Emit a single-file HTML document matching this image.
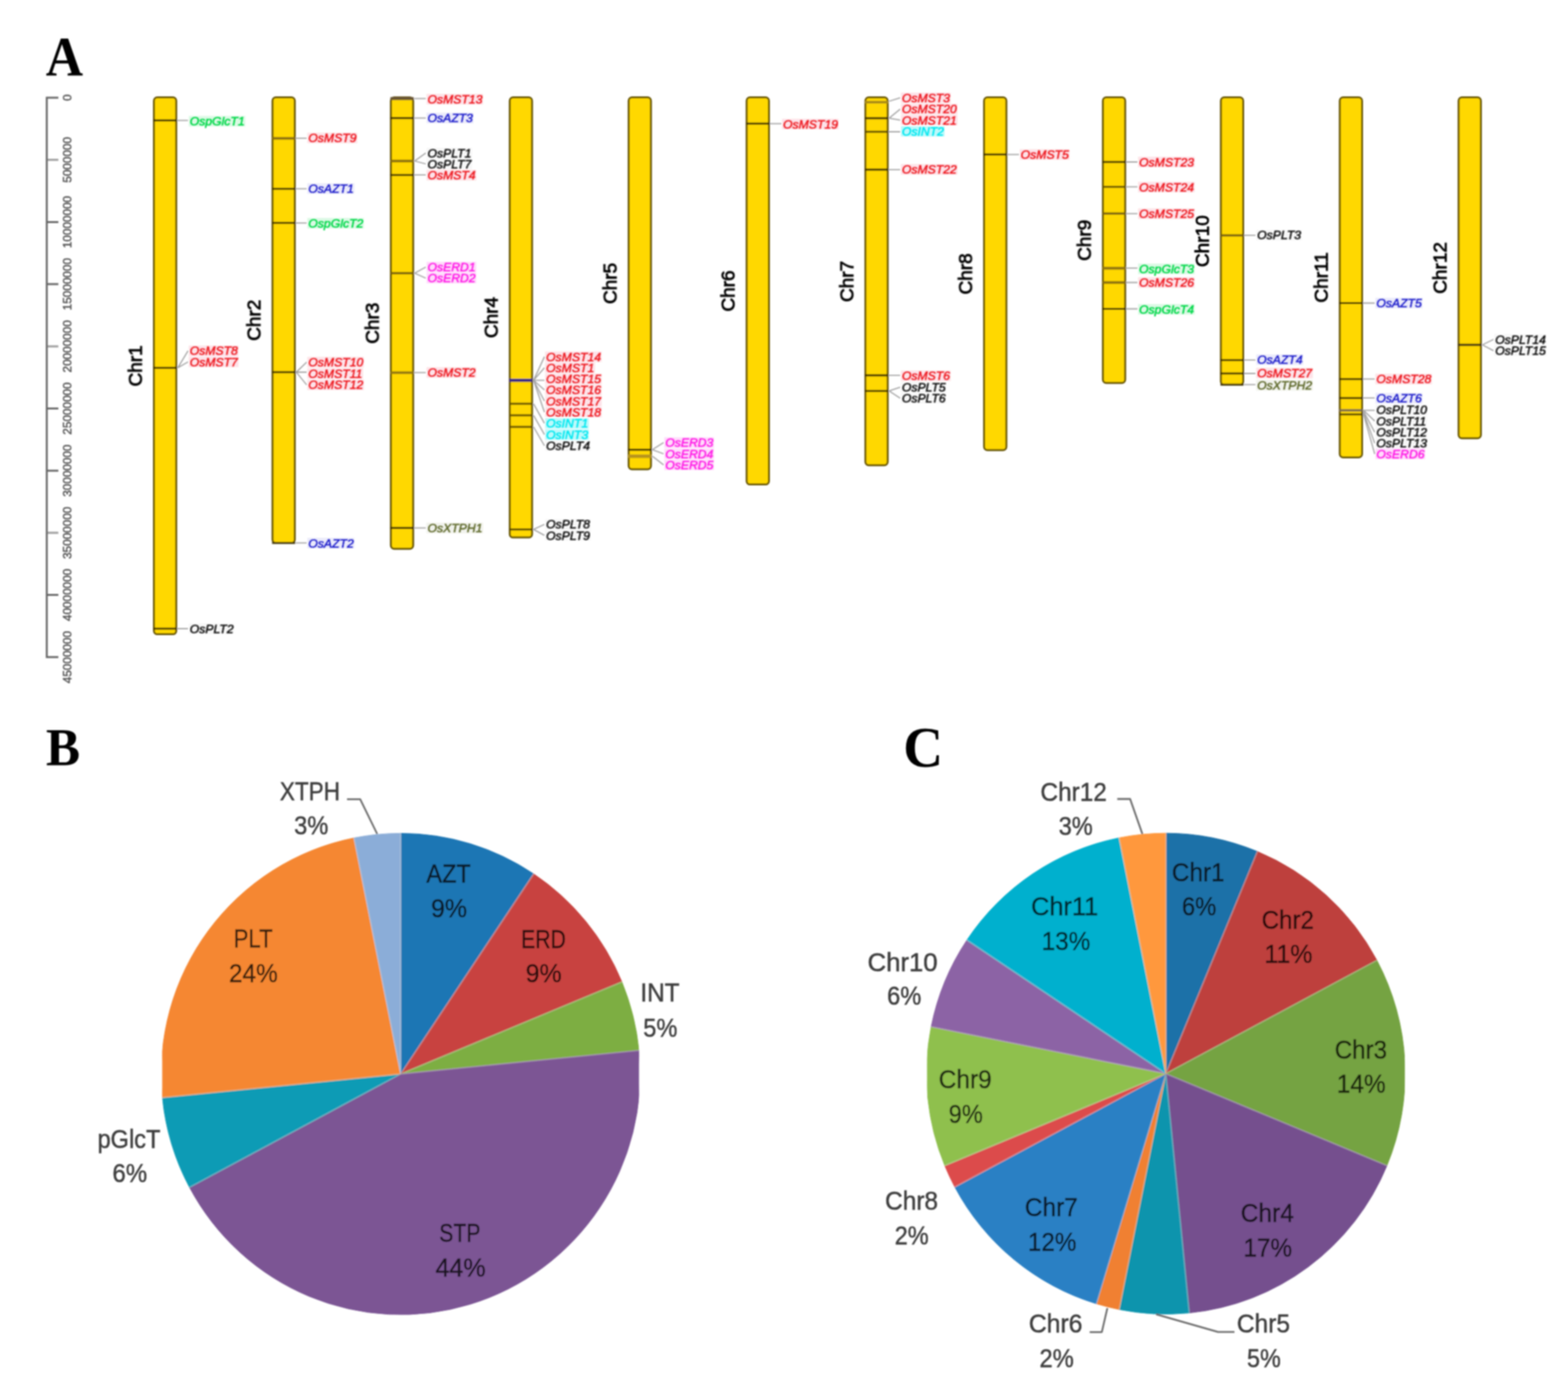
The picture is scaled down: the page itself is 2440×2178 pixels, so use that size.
<!DOCTYPE html>
<html lang="en"><head><meta charset="utf-8"><title>Chromosomal distribution of sugar transporter genes</title>
<style>
html,body{margin:0;padding:0;background:#fff;}
body{width:2440px;height:2178px;overflow:hidden;}
svg{display:block;}
.g{font-family:"Liberation Sans",Arial,Helvetica,sans-serif;font-style:italic;font-size:19.0px;stroke-width:.7;stroke-linejoin:round;}
.c{font-family:"Liberation Sans",Arial,Helvetica,sans-serif;font-size:29.6px;fill:#000;stroke:#000;stroke-width:1.1;text-anchor:middle;}
.t{font-family:"Liberation Sans",Arial,Helvetica,sans-serif;font-size:18.3px;fill:#565656;stroke:#565656;stroke-width:.6;text-anchor:middle;}
.p{font-family:"Liberation Serif","Times New Roman",serif;font-weight:bold;font-size:100px;fill:#000;}
.l{font-family:"Liberation Sans",Arial,Helvetica,sans-serif;font-size:40px;fill:#000;stroke:#000;stroke-width:.7;opacity:.76;text-anchor:middle;}
.k{fill:none;stroke:#a2a2a2;stroke-width:1.8;}
.ld{fill:none;stroke:#6c6c6c;stroke-width:2.8;stroke-linejoin:round;}
</style></head><body>
<svg width="2440" height="2178" viewBox="0 0 2440 2178" role="img" aria-label="Chromosomal distribution of rice sugar transporter genes">
<rect width="2440" height="2178" fill="#ffffff"/>
<defs><filter id="fa" x="0" y="0" width="2440" height="1100" filterUnits="userSpaceOnUse"><feGaussianBlur stdDeviation="1.0"/></filter><filter id="fb" x="0" y="1080" width="2440" height="1098" filterUnits="userSpaceOnUse"><feGaussianBlur stdDeviation="0.85"/></filter></defs>
<g id="panelA" filter="url(#fa)">
<text class="p" transform="translate(71.2 116.5) scale(.803 .864)">A</text>
<g id="scale">
<path d="M72.8 248.7 H90.8M72.8 538.8 H90.8M72.8 828.9 H90.8" fill="none" stroke="#a0a0a0" stroke-width="3.2"/>
<path d="M72.8 150.6 V1023.7 M72.8 152.0 H90.8 M72.8 345.4 H90.8 M72.8 442.1 H90.8 M72.8 635.5 H90.8 M72.8 732.2 H90.8 M72.8 925.6 H90.8 M72.8 1022.3 H90.8" fill="none" stroke="#666" stroke-width="3.0"/>
<text class="t" transform="translate(111.2 152.0) rotate(-90)">0</text>
<text class="t" transform="translate(111.2 248.7) rotate(-90)">5000000</text>
<text class="t" transform="translate(111.2 345.4) rotate(-90)">10000000</text>
<text class="t" transform="translate(111.2 442.1) rotate(-90)">15000000</text>
<text class="t" transform="translate(111.2 538.8) rotate(-90)">20000000</text>
<text class="t" transform="translate(111.2 635.5) rotate(-90)">25000000</text>
<text class="t" transform="translate(111.2 732.2) rotate(-90)">30000000</text>
<text class="t" transform="translate(111.2 828.9) rotate(-90)">35000000</text>
<text class="t" transform="translate(111.2 925.6) rotate(-90)">40000000</text>
<text class="t" transform="translate(111.2 1022.3) rotate(-90)">45000000</text>
</g>
<g id="chr1">
<rect x="239.6" y="151.6" width="34.6" height="835.0" rx="5.2" ry="5.2" fill="#ffd800" stroke="#655200" stroke-width="3.0"/>
<path d="M238.9 187.4 H274.9" stroke="#3f3300" stroke-width="3.1" fill="none"/>
<path d="M238.9 572.2 H274.9" stroke="#3f3300" stroke-width="3.1" fill="none"/>
<path d="M238.9 978.0 H274.9" stroke="#3f3300" stroke-width="3.1" fill="none"/>
<path class="k" d="M275.6 187.4 H292.6M276.6 572.2 L292.6 545.8M276.6 572.2 L292.6 563.0M275.6 978.0 H292.6"/>
<rect x="293.7" y="180.4" width="88.0" height="16.4" fill="#00d84a" fill-opacity="0.14"/>
<rect x="293.7" y="537.6" width="77.5" height="16.4" fill="#ee1c25" fill-opacity="0.11"/>
<rect x="293.7" y="554.8" width="77.5" height="16.4" fill="#ee1c25" fill-opacity="0.11"/>
<rect x="293.7" y="969.8" width="70.8" height="16.4" fill="#111111" fill-opacity="0.03"/>
<text class="g" x="295.2" y="195.2" fill="#00d84a" stroke="#00d84a">OspGlcT1</text>
<text class="g" x="295.2" y="552.4" fill="#ee1c25" stroke="#ee1c25">OsMST8</text>
<text class="g" x="295.2" y="569.6" fill="#ee1c25" stroke="#ee1c25">OsMST7</text>
<text class="g" x="295.2" y="984.6" fill="#111111" stroke="#111111" stroke-width=".5">OsPLT2</text>
<text class="c" transform="translate(220.7 569.2) rotate(-90)">Chr1</text>
</g>
<g id="chr2">
<rect x="424.1" y="151.6" width="34.6" height="693.0" rx="5.2" ry="5.2" fill="#ffd800" stroke="#655200" stroke-width="3.0"/>
<path d="M423.4 215.2 H459.4" stroke="#8a6f0a" stroke-width="3.9" fill="none"/>
<path d="M423.4 293.7 H459.4" stroke="#3f3300" stroke-width="3.1" fill="none"/>
<path d="M423.4 346.8 H459.4" stroke="#3f3300" stroke-width="3.1" fill="none"/>
<path d="M423.4 579.0 H459.4" stroke="#3f3300" stroke-width="3.1" fill="none"/>
<path d="M423.4 844.6 H459.4" stroke="#4a3c10" stroke-width="3.3" fill="none"/>
<path class="k" d="M460.1 215.2 H477.2M460.1 293.7 H477.2M460.1 346.8 H477.2M461.1 579.0 L477.2 563.4M460.1 579.0 H477.2M461.1 579.0 L477.2 598.8M460.1 844.6 H477.2"/>
<rect x="478.3" y="206.4" width="77.5" height="16.4" fill="#ee1c25" fill-opacity="0.11"/>
<rect x="478.3" y="285.1" width="73.2" height="16.4" fill="#2222cc" fill-opacity="0.08"/>
<rect x="478.3" y="339.1" width="88.0" height="16.4" fill="#00d84a" fill-opacity="0.14"/>
<rect x="478.3" y="555.2" width="88.0" height="16.4" fill="#ee1c25" fill-opacity="0.11"/>
<rect x="478.3" y="572.8" width="86.6" height="16.4" fill="#ee1c25" fill-opacity="0.11"/>
<rect x="478.3" y="590.6" width="88.0" height="16.4" fill="#ee1c25" fill-opacity="0.11"/>
<rect x="478.3" y="836.7" width="73.2" height="16.4" fill="#2222cc" fill-opacity="0.08"/>
<text class="g" x="479.8" y="221.2" fill="#ee1c25" stroke="#ee1c25">OsMST9</text>
<text class="g" x="479.8" y="299.9" fill="#2222cc" stroke="#2222cc">OsAZT1</text>
<text class="g" x="479.8" y="353.9" fill="#00d84a" stroke="#00d84a">OspGlcT2</text>
<text class="g" x="479.8" y="570.0" fill="#ee1c25" stroke="#ee1c25">OsMST10</text>
<text class="g" x="479.8" y="587.6" fill="#ee1c25" stroke="#ee1c25">OsMST11</text>
<text class="g" x="479.8" y="605.4" fill="#ee1c25" stroke="#ee1c25">OsMST12</text>
<text class="g" x="479.8" y="851.5" fill="#2222cc" stroke="#2222cc">OsAZT2</text>
<text class="c" transform="translate(405.2 498.2) rotate(-90)">Chr2</text>
</g>
<g id="chr3">
<rect x="608.3" y="151.6" width="34.6" height="702.2" rx="5.2" ry="5.2" fill="#ffd800" stroke="#655200" stroke-width="3.0"/>
<path d="M607.6 153.4 H643.6" stroke="#6a5636" stroke-width="4.7" fill="none"/>
<path d="M607.6 183.6 H643.6" stroke="#3f3300" stroke-width="3.1" fill="none"/>
<path d="M607.6 250.5 H643.6" stroke="#8a6f0a" stroke-width="4.1" fill="none"/>
<path d="M607.6 272.2 H643.6" stroke="#3f3300" stroke-width="3.1" fill="none"/>
<path d="M607.6 425.0 H643.6" stroke="#7a6208" stroke-width="3.5" fill="none"/>
<path d="M607.6 579.7 H643.6" stroke="#94780e" stroke-width="4.1" fill="none"/>
<path d="M607.6 821.4 H643.6" stroke="#3f3300" stroke-width="3.1" fill="none"/>
<path class="k" d="M644.3 153.4 H662.6M644.3 183.6 H662.6M645.3 250.5 L662.6 237.9M645.3 250.5 L662.6 255.0M644.3 272.2 H662.6M645.3 425.0 L662.6 415.5M645.3 425.0 L662.6 432.7M644.3 579.7 H662.6M644.3 821.4 H662.6"/>
<rect x="663.7" y="146.1" width="88.0" height="16.4" fill="#ee1c25" fill-opacity="0.11"/>
<rect x="663.7" y="175.4" width="73.2" height="16.4" fill="#2222cc" fill-opacity="0.08"/>
<rect x="663.7" y="229.7" width="70.8" height="16.4" fill="#111111" fill-opacity="0.03"/>
<rect x="663.7" y="246.8" width="70.8" height="16.4" fill="#111111" fill-opacity="0.03"/>
<rect x="663.7" y="264.4" width="77.5" height="16.4" fill="#ee1c25" fill-opacity="0.11"/>
<rect x="663.7" y="407.3" width="77.5" height="16.4" fill="#ff1ee6" fill-opacity="0.14"/>
<rect x="663.7" y="424.5" width="77.5" height="16.4" fill="#ff1ee6" fill-opacity="0.14"/>
<rect x="663.7" y="571.3" width="77.5" height="16.4" fill="#ee1c25" fill-opacity="0.11"/>
<rect x="663.7" y="813.2" width="88.0" height="16.4" fill="#626c30" fill-opacity="0.09"/>
<text class="g" x="665.2" y="160.9" fill="#ee1c25" stroke="#ee1c25">OsMST13</text>
<text class="g" x="665.2" y="190.2" fill="#2222cc" stroke="#2222cc">OsAZT3</text>
<text class="g" x="665.2" y="244.5" fill="#111111" stroke="#111111" stroke-width=".5">OsPLT1</text>
<text class="g" x="665.2" y="261.6" fill="#111111" stroke="#111111" stroke-width=".5">OsPLT7</text>
<text class="g" x="665.2" y="279.2" fill="#ee1c25" stroke="#ee1c25">OsMST4</text>
<text class="g" x="665.2" y="422.1" fill="#ff1ee6" stroke="#ff1ee6">OsERD1</text>
<text class="g" x="665.2" y="439.3" fill="#ff1ee6" stroke="#ff1ee6">OsERD2</text>
<text class="g" x="665.2" y="586.1" fill="#ee1c25" stroke="#ee1c25">OsMST2</text>
<text class="g" x="665.2" y="828.0" fill="#626c30" stroke="#626c30">OsXTPH1</text>
<text class="c" transform="translate(589.4 502.8) rotate(-90)">Chr3</text>
</g>
<g id="chr4">
<rect x="793.3" y="151.6" width="34.6" height="684.5" rx="5.2" ry="5.2" fill="#ffd800" stroke="#655200" stroke-width="3.0"/>
<path d="M792.6 591.6 H828.6" stroke="#3d2d86" stroke-width="5.1" fill="none"/>
<path d="M792.6 628.2 H828.6" stroke="#6a5606" stroke-width="3.3" fill="none"/>
<path d="M792.6 646.2 H828.6" stroke="#6a5606" stroke-width="3.3" fill="none"/>
<path d="M792.6 664.1 H828.6" stroke="#6a5606" stroke-width="3.3" fill="none"/>
<path d="M792.6 823.6 H828.6" stroke="#5a4906" stroke-width="3.3" fill="none"/>
<path class="k" d="M830.3 591.6 L847.2 555.0M830.3 591.6 L847.2 572.2M829.3 591.6 H847.2M830.3 591.6 L847.2 606.7M830.3 591.6 L847.2 623.9M830.3 591.6 L847.2 641.1M830.3 628.2 L847.2 658.5M830.3 646.2 L847.2 676.0M830.3 664.1 L847.2 693.4M830.3 823.6 L847.2 815.7M830.3 823.6 L847.2 832.9"/>
<rect x="848.3" y="546.8" width="88.0" height="16.4" fill="#ee1c25" fill-opacity="0.11"/>
<rect x="848.3" y="564.0" width="77.5" height="16.4" fill="#ee1c25" fill-opacity="0.11"/>
<rect x="848.3" y="581.3" width="88.0" height="16.4" fill="#ee1c25" fill-opacity="0.11"/>
<rect x="848.3" y="598.5" width="88.0" height="16.4" fill="#ee1c25" fill-opacity="0.11"/>
<rect x="848.3" y="615.7" width="88.0" height="16.4" fill="#ee1c25" fill-opacity="0.11"/>
<rect x="848.3" y="632.9" width="88.0" height="16.4" fill="#ee1c25" fill-opacity="0.11"/>
<rect x="848.3" y="650.3" width="68.0" height="16.4" fill="#00e8f0" fill-opacity="0.26"/>
<rect x="848.3" y="667.8" width="68.0" height="16.4" fill="#00e8f0" fill-opacity="0.26"/>
<rect x="848.3" y="685.2" width="70.8" height="16.4" fill="#111111" fill-opacity="0.03"/>
<rect x="848.3" y="807.5" width="70.8" height="16.4" fill="#111111" fill-opacity="0.03"/>
<rect x="848.3" y="824.7" width="70.8" height="16.4" fill="#111111" fill-opacity="0.03"/>
<text class="g" x="849.8" y="561.6" fill="#ee1c25" stroke="#ee1c25">OsMST14</text>
<text class="g" x="849.8" y="578.8" fill="#ee1c25" stroke="#ee1c25">OsMST1</text>
<text class="g" x="849.8" y="596.1" fill="#ee1c25" stroke="#ee1c25">OsMST15</text>
<text class="g" x="849.8" y="613.3" fill="#ee1c25" stroke="#ee1c25">OsMST16</text>
<text class="g" x="849.8" y="630.5" fill="#ee1c25" stroke="#ee1c25">OsMST17</text>
<text class="g" x="849.8" y="647.7" fill="#ee1c25" stroke="#ee1c25">OsMST18</text>
<text class="g" x="849.8" y="665.1" fill="#00e8f0" stroke="#00e8f0">OsINT1</text>
<text class="g" x="849.8" y="682.6" fill="#00e8f0" stroke="#00e8f0">OsINT3</text>
<text class="g" x="849.8" y="700.0" fill="#111111" stroke="#111111" stroke-width=".5">OsPLT4</text>
<text class="g" x="849.8" y="822.3" fill="#111111" stroke="#111111" stroke-width=".5">OsPLT8</text>
<text class="g" x="849.8" y="839.5" fill="#111111" stroke="#111111" stroke-width=".5">OsPLT9</text>
<text class="c" transform="translate(774.4 493.9) rotate(-90)">Chr4</text>
</g>
<g id="chr5">
<rect x="978.3" y="151.6" width="34.6" height="578.4" rx="5.2" ry="5.2" fill="#ffd800" stroke="#655200" stroke-width="3.0"/>
<path d="M977.6 699.6 H1013.6" stroke="#3f3300" stroke-width="3.1" fill="none"/>
<path d="M977.6 709.8 H1013.6" stroke="#b8941a" stroke-width="5.5" fill="none"/>
<path class="k" d="M1015.3 699.6 L1032.6 688.5M1015.3 699.6 L1032.6 706.0M1015.3 709.8 L1032.6 723.2"/>
<rect x="1033.7" y="680.3" width="77.5" height="16.4" fill="#ff1ee6" fill-opacity="0.14"/>
<rect x="1033.7" y="697.8" width="77.5" height="16.4" fill="#ff1ee6" fill-opacity="0.14"/>
<rect x="1033.7" y="715.0" width="77.5" height="16.4" fill="#ff1ee6" fill-opacity="0.14"/>
<text class="g" x="1035.2" y="695.1" fill="#ff1ee6" stroke="#ff1ee6">OsERD3</text>
<text class="g" x="1035.2" y="712.6" fill="#ff1ee6" stroke="#ff1ee6">OsERD4</text>
<text class="g" x="1035.2" y="729.8" fill="#ff1ee6" stroke="#ff1ee6">OsERD5</text>
<text class="c" transform="translate(959.4 440.9) rotate(-90)">Chr5</text>
</g>
<g id="chr6">
<rect x="1161.9" y="151.6" width="34.6" height="602.0" rx="5.2" ry="5.2" fill="#ffd800" stroke="#655200" stroke-width="3.0"/>
<path d="M1161.2 192.4 H1197.2" stroke="#3f3300" stroke-width="3.1" fill="none"/>
<path class="k" d="M1197.9 192.4 H1215.9"/>
<rect x="1217.0" y="184.8" width="88.0" height="16.4" fill="#ee1c25" fill-opacity="0.11"/>
<text class="g" x="1218.5" y="199.6" fill="#ee1c25" stroke="#ee1c25">OsMST19</text>
<text class="c" transform="translate(1143.0 452.7) rotate(-90)">Chr6</text>
</g>
<g id="chr7">
<rect x="1346.7" y="151.6" width="34.6" height="572.2" rx="5.2" ry="5.2" fill="#ffd800" stroke="#655200" stroke-width="3.0"/>
<path d="M1346.0 159.0 H1382.0" stroke="#a88a14" stroke-width="4.1" fill="none"/>
<path d="M1346.0 183.8 H1382.0" stroke="#3f3300" stroke-width="3.3" fill="none"/>
<path d="M1346.0 205.0 H1382.0" stroke="#5a4906" stroke-width="3.1" fill="none"/>
<path d="M1346.0 263.9 H1382.0" stroke="#3f3300" stroke-width="3.1" fill="none"/>
<path d="M1346.0 583.9 H1382.0" stroke="#3f3300" stroke-width="3.1" fill="none"/>
<path d="M1346.0 608.2 H1382.0" stroke="#3f3300" stroke-width="3.1" fill="none"/>
<path class="k" d="M1383.7 157.5 L1400.8 152.2M1383.7 183.8 L1400.8 169.7M1383.7 183.8 L1400.8 186.9M1382.7 205.0 H1400.8M1382.7 263.9 H1400.8M1382.7 583.9 H1400.8M1383.7 608.2 L1400.8 602.3M1383.7 608.2 L1400.8 619.6"/>
<rect x="1401.9" y="144.0" width="77.5" height="16.4" fill="#ee1c25" fill-opacity="0.11"/>
<rect x="1401.9" y="161.5" width="88.0" height="16.4" fill="#ee1c25" fill-opacity="0.11"/>
<rect x="1401.9" y="178.7" width="88.0" height="16.4" fill="#ee1c25" fill-opacity="0.11"/>
<rect x="1401.9" y="196.0" width="68.0" height="16.4" fill="#00e8f0" fill-opacity="0.26"/>
<rect x="1401.9" y="255.3" width="88.0" height="16.4" fill="#ee1c25" fill-opacity="0.11"/>
<rect x="1401.9" y="576.4" width="77.5" height="16.4" fill="#ee1c25" fill-opacity="0.11"/>
<rect x="1401.9" y="594.1" width="70.8" height="16.4" fill="#111111" fill-opacity="0.03"/>
<rect x="1401.9" y="611.4" width="70.8" height="16.4" fill="#111111" fill-opacity="0.03"/>
<text class="g" x="1403.4" y="158.8" fill="#ee1c25" stroke="#ee1c25">OsMST3</text>
<text class="g" x="1403.4" y="176.3" fill="#ee1c25" stroke="#ee1c25">OsMST20</text>
<text class="g" x="1403.4" y="193.5" fill="#ee1c25" stroke="#ee1c25">OsMST21</text>
<text class="g" x="1403.4" y="210.8" fill="#00e8f0" stroke="#00e8f0">OsINT2</text>
<text class="g" x="1403.4" y="270.1" fill="#ee1c25" stroke="#ee1c25">OsMST22</text>
<text class="g" x="1403.4" y="591.2" fill="#ee1c25" stroke="#ee1c25">OsMST6</text>
<text class="g" x="1403.4" y="608.9" fill="#111111" stroke="#111111" stroke-width=".5">OsPLT5</text>
<text class="g" x="1403.4" y="626.2" fill="#111111" stroke="#111111" stroke-width=".5">OsPLT6</text>
<text class="c" transform="translate(1327.8 437.8) rotate(-90)">Chr7</text>
</g>
<g id="chr8">
<rect x="1531.4" y="151.6" width="34.6" height="548.7" rx="5.2" ry="5.2" fill="#ffd800" stroke="#655200" stroke-width="3.0"/>
<path d="M1530.7 240.4 H1566.7" stroke="#3f3300" stroke-width="3.1" fill="none"/>
<path class="k" d="M1567.4 240.4 H1585.7"/>
<rect x="1586.8" y="232.2" width="77.5" height="16.4" fill="#ee1c25" fill-opacity="0.11"/>
<text class="g" x="1588.3" y="247.0" fill="#ee1c25" stroke="#ee1c25">OsMST5</text>
<text class="c" transform="translate(1512.5 426.1) rotate(-90)">Chr8</text>
</g>
<g id="chr9">
<rect x="1716.3" y="151.6" width="34.6" height="444.2" rx="5.2" ry="5.2" fill="#ffd800" stroke="#655200" stroke-width="3.0"/>
<path d="M1715.6 252.0 H1751.6" stroke="#3f3300" stroke-width="3.1" fill="none"/>
<path d="M1715.6 290.6 H1751.6" stroke="#6a5606" stroke-width="3.3" fill="none"/>
<path d="M1715.6 332.3 H1751.6" stroke="#7a6208" stroke-width="3.5" fill="none"/>
<path d="M1715.6 417.2 H1751.6" stroke="#94780e" stroke-width="4.5" fill="none"/>
<path d="M1715.6 439.5 H1751.6" stroke="#8a6f0a" stroke-width="4.1" fill="none"/>
<path d="M1715.6 480.5 H1751.6" stroke="#3f3300" stroke-width="3.1" fill="none"/>
<path class="k" d="M1752.3 252.0 H1770.0M1752.3 290.6 H1770.0M1752.3 332.3 H1770.0M1752.3 417.2 H1770.0M1752.3 439.5 H1770.0M1752.3 480.5 H1770.0"/>
<rect x="1771.1" y="243.8" width="88.0" height="16.4" fill="#ee1c25" fill-opacity="0.11"/>
<rect x="1771.1" y="282.8" width="88.0" height="16.4" fill="#ee1c25" fill-opacity="0.11"/>
<rect x="1771.1" y="324.3" width="88.0" height="16.4" fill="#ee1c25" fill-opacity="0.11"/>
<rect x="1771.1" y="410.0" width="88.0" height="16.4" fill="#00d84a" fill-opacity="0.14"/>
<rect x="1771.1" y="431.3" width="88.0" height="16.4" fill="#ee1c25" fill-opacity="0.11"/>
<rect x="1771.1" y="473.0" width="88.0" height="16.4" fill="#00d84a" fill-opacity="0.14"/>
<text class="g" x="1772.6" y="258.6" fill="#ee1c25" stroke="#ee1c25">OsMST23</text>
<text class="g" x="1772.6" y="297.6" fill="#ee1c25" stroke="#ee1c25">OsMST24</text>
<text class="g" x="1772.6" y="339.1" fill="#ee1c25" stroke="#ee1c25">OsMST25</text>
<text class="g" x="1772.6" y="424.8" fill="#00d84a" stroke="#00d84a">OspGlcT3</text>
<text class="g" x="1772.6" y="446.1" fill="#ee1c25" stroke="#ee1c25">OsMST26</text>
<text class="g" x="1772.6" y="487.8" fill="#00d84a" stroke="#00d84a">OspGlcT4</text>
<text class="c" transform="translate(1697.4 373.8) rotate(-90)">Chr9</text>
</g>
<g id="chr10">
<rect x="1899.9" y="151.6" width="34.6" height="447.0" rx="5.2" ry="5.2" fill="#ffd800" stroke="#655200" stroke-width="3.0"/>
<path d="M1899.2 366.2 H1935.2" stroke="#7a6208" stroke-width="3.5" fill="none"/>
<path d="M1899.2 560.2 H1935.2" stroke="#3f3300" stroke-width="3.1" fill="none"/>
<path d="M1899.2 581.0 H1935.2" stroke="#3f3300" stroke-width="3.1" fill="none"/>
<path d="M1899.2 598.4 H1935.2" stroke="#4a3c10" stroke-width="3.3" fill="none"/>
<path class="k" d="M1935.9 366.2 H1953.7M1935.9 560.2 H1953.7M1935.9 581.0 H1953.7M1935.9 598.4 H1953.7"/>
<rect x="1954.8" y="357.6" width="70.8" height="16.4" fill="#111111" fill-opacity="0.03"/>
<rect x="1954.8" y="551.3" width="73.2" height="16.4" fill="#2222cc" fill-opacity="0.08"/>
<rect x="1954.8" y="572.2" width="88.0" height="16.4" fill="#ee1c25" fill-opacity="0.11"/>
<rect x="1954.8" y="591.1" width="88.0" height="16.4" fill="#626c30" fill-opacity="0.09"/>
<text class="g" x="1956.3" y="372.4" fill="#111111" stroke="#111111" stroke-width=".5">OsPLT3</text>
<text class="g" x="1956.3" y="566.1" fill="#2222cc" stroke="#2222cc">OsAZT4</text>
<text class="g" x="1956.3" y="587.0" fill="#ee1c25" stroke="#ee1c25">OsMST27</text>
<text class="g" x="1956.3" y="605.9" fill="#626c30" stroke="#626c30">OsXTPH2</text>
<text class="c" transform="translate(1881.0 375.2) rotate(-90)">Chr10</text>
</g>
<g id="chr11">
<rect x="2084.9" y="151.6" width="34.6" height="559.8" rx="5.2" ry="5.2" fill="#ffd800" stroke="#655200" stroke-width="3.0"/>
<path d="M2084.2 471.5 H2120.2" stroke="#3f3300" stroke-width="3.1" fill="none"/>
<path d="M2084.2 589.7 H2120.2" stroke="#3f3300" stroke-width="3.1" fill="none"/>
<path d="M2084.2 619.2 H2120.2" stroke="#3f3300" stroke-width="3.1" fill="none"/>
<path d="M2084.2 638.4 H2120.2" stroke="#7d6c4a" stroke-width="3.9" fill="none"/>
<path d="M2084.2 644.6 H2120.2" stroke="#5a4906" stroke-width="3.1" fill="none"/>
<path class="k" d="M2120.9 471.5 H2139.2M2120.9 589.7 H2139.2M2120.9 619.2 H2139.2M2120.9 638.4 H2139.2M2121.9 638.4 L2139.2 655.0M2121.9 640.0 L2139.2 672.3M2121.9 642.0 L2139.2 689.5M2121.9 644.6 L2139.2 706.2"/>
<rect x="2140.3" y="463.3" width="73.2" height="16.4" fill="#2222cc" fill-opacity="0.08"/>
<rect x="2140.3" y="581.5" width="88.0" height="16.4" fill="#ee1c25" fill-opacity="0.11"/>
<rect x="2140.3" y="611.3" width="73.2" height="16.4" fill="#2222cc" fill-opacity="0.08"/>
<rect x="2140.3" y="629.5" width="81.4" height="16.4" fill="#111111" fill-opacity="0.03"/>
<rect x="2140.3" y="646.8" width="79.9" height="16.4" fill="#111111" fill-opacity="0.03"/>
<rect x="2140.3" y="664.1" width="81.4" height="16.4" fill="#111111" fill-opacity="0.03"/>
<rect x="2140.3" y="681.3" width="81.4" height="16.4" fill="#111111" fill-opacity="0.03"/>
<rect x="2140.3" y="698.0" width="77.5" height="16.4" fill="#ff1ee6" fill-opacity="0.14"/>
<text class="g" x="2141.8" y="478.1" fill="#2222cc" stroke="#2222cc">OsAZT5</text>
<text class="g" x="2141.8" y="596.3" fill="#ee1c25" stroke="#ee1c25">OsMST28</text>
<text class="g" x="2141.8" y="626.1" fill="#2222cc" stroke="#2222cc">OsAZT6</text>
<text class="g" x="2141.8" y="644.3" fill="#111111" stroke="#111111" stroke-width=".5">OsPLT10</text>
<text class="g" x="2141.8" y="661.6" fill="#111111" stroke="#111111" stroke-width=".5">OsPLT11</text>
<text class="g" x="2141.8" y="678.9" fill="#111111" stroke="#111111" stroke-width=".5">OsPLT12</text>
<text class="g" x="2141.8" y="696.1" fill="#111111" stroke="#111111" stroke-width=".5">OsPLT13</text>
<text class="g" x="2141.8" y="712.8" fill="#ff1ee6" stroke="#ff1ee6">OsERD6</text>
<text class="c" transform="translate(2066.0 431.6) rotate(-90)">Chr11</text>
</g>
<g id="chr12">
<rect x="2269.8" y="151.6" width="34.6" height="530.2" rx="5.2" ry="5.2" fill="#ffd800" stroke="#655200" stroke-width="3.0"/>
<path d="M2269.1 536.5 H2305.1" stroke="#3f3010" stroke-width="3.5" fill="none"/>
<path class="k" d="M2306.8 536.5 L2324.1 528.0M2306.8 536.5 L2324.1 545.6"/>
<rect x="2325.2" y="519.8" width="81.4" height="16.4" fill="#111111" fill-opacity="0.03"/>
<rect x="2325.2" y="537.4" width="81.4" height="16.4" fill="#111111" fill-opacity="0.03"/>
<text class="g" x="2326.7" y="534.6" fill="#111111" stroke="#111111" stroke-width=".5">OsPLT14</text>
<text class="g" x="2326.7" y="552.2" fill="#111111" stroke="#111111" stroke-width=".5">OsPLT15</text>
<text class="c" transform="translate(2250.9 416.8) rotate(-90)">Chr12</text>
</g>
</g>
<g id="panelBC" filter="url(#fb)">
<text class="p" transform="translate(71.4 1190.2) scale(.797 .820)">B</text>
<text class="p" transform="translate(1405.5 1191.9) scale(.860 .879)">C</text>
<clipPath id="cp_pieB"><rect x="252.4" y="1200" width="742.0" height="950"/></clipPath>
<g id="pieB" clip-path="url(#cp_pieB)">
<path d="M623.5 1670.8 L623.50 1296.40 A372.6 374.4 0 0 1 830.51 1359.50 Z" fill="#1f76b4" stroke="#1f76b4" stroke-width="1"/>
<path d="M623.5 1670.8 L830.51 1359.50 A372.6 374.4 0 0 1 967.74 1527.52 Z" fill="#c8433f" stroke="#c8433f" stroke-width="1"/>
<path d="M623.5 1670.8 L967.74 1527.52 A372.6 374.4 0 0 1 994.31 1634.10 Z" fill="#7dae42" stroke="#7dae42" stroke-width="1"/>
<path d="M623.5 1670.8 L994.31 1634.10 A372.6 374.4 0 0 1 294.90 1847.29 Z" fill="#7b5594" stroke="#7b5594" stroke-width="1"/>
<path d="M623.5 1670.8 L294.90 1847.29 A372.6 374.4 0 0 1 252.69 1707.50 Z" fill="#0a9bb5" stroke="#0a9bb5" stroke-width="1"/>
<path d="M623.5 1670.8 L252.69 1707.50 A372.6 374.4 0 0 1 550.81 1303.59 Z" fill="#f58733" stroke="#f58733" stroke-width="1"/>
<path d="M623.5 1670.8 L550.81 1303.59 A372.6 374.4 0 0 1 623.50 1296.40 Z" fill="#8badd8" stroke="#8badd8" stroke-width="1"/>
<path d="M623.5 1670.8 L623.50 1296.40M623.5 1670.8 L830.51 1359.50M623.5 1670.8 L967.74 1527.52M623.5 1670.8 L994.31 1634.10M623.5 1670.8 L294.90 1847.29M623.5 1670.8 L252.69 1707.50M623.5 1670.8 L550.81 1303.59" fill="none" stroke="#e0dcd8" stroke-opacity=".34" stroke-width="2.4"/>
</g>
<g id="labelsB">
<path class="ld" d="M540 1243.4 H560.5 L587 1297.5"/>
<text class="l" x="482.3" y="1245.0" textLength="93.5" lengthAdjust="spacingAndGlyphs">XTPH</text>
<text class="l" x="484.3" y="1298.3" textLength="53.0" lengthAdjust="spacingAndGlyphs">3%</text>
<text class="l" x="698.1" y="1372.8" textLength="69.0" lengthAdjust="spacingAndGlyphs">AZT</text>
<text class="l" x="698.7" y="1426.6" textLength="56.0" lengthAdjust="spacingAndGlyphs">9%</text>
<text class="l" x="845.7" y="1474.5" textLength="69.5" lengthAdjust="spacingAndGlyphs">ERD</text>
<text class="l" x="846.0" y="1527.9" textLength="56.0" lengthAdjust="spacingAndGlyphs">9%</text>
<text class="l" x="1027.0" y="1558.4" textLength="61.0" lengthAdjust="spacingAndGlyphs">INT</text>
<text class="l" x="1027.6" y="1613.3" textLength="53.0" lengthAdjust="spacingAndGlyphs">5%</text>
<text class="l" x="715.6" y="1931.8" textLength="64.0" lengthAdjust="spacingAndGlyphs">STP</text>
<text class="l" x="716.7" y="1985.5" textLength="78.0" lengthAdjust="spacingAndGlyphs">44%</text>
<text class="l" x="200.7" y="1785.5" textLength="98.0" lengthAdjust="spacingAndGlyphs">pGlcT</text>
<text class="l" x="202.0" y="1839.0" textLength="54.0" lengthAdjust="spacingAndGlyphs">6%</text>
<text class="l" x="393.9" y="1473.6" textLength="61.0" lengthAdjust="spacingAndGlyphs">PLT</text>
<text class="l" x="394.2" y="1528.1" textLength="76.0" lengthAdjust="spacingAndGlyphs">24%</text>
</g>
<clipPath id="cp_pieC"><rect x="1442.7" y="1200" width="743.4" height="950"/></clipPath>
<g id="pieC" clip-path="url(#cp_pieC)">
<path d="M1814.2 1670.3 L1814.20 1296.20 A372.4 374.1 0 0 1 1956.71 1324.68 Z" fill="#1f71a8" stroke="#1f71a8" stroke-width="1"/>
<path d="M1814.2 1670.3 L1956.71 1324.68 A372.4 374.1 0 0 1 2142.63 1493.95 Z" fill="#be403c" stroke="#be403c" stroke-width="1"/>
<path d="M1814.2 1670.3 L2142.63 1493.95 A372.4 374.1 0 0 1 2158.25 1813.46 Z" fill="#75a342" stroke="#75a342" stroke-width="1"/>
<path d="M1814.2 1670.3 L2158.25 1813.46 A372.4 374.1 0 0 1 1850.70 2042.60 Z" fill="#74508e" stroke="#74508e" stroke-width="1"/>
<path d="M1814.2 1670.3 L1850.70 2042.60 A372.4 374.1 0 0 1 1741.55 2037.21 Z" fill="#0a94ad" stroke="#0a94ad" stroke-width="1"/>
<path d="M1814.2 1670.3 L1741.55 2037.21 A372.4 374.1 0 0 1 1706.10 2028.29 Z" fill="#f08030" stroke="#f08030" stroke-width="1"/>
<path d="M1814.2 1670.3 L1706.10 2028.29 A372.4 374.1 0 0 1 1485.77 1846.65 Z" fill="#2a80c4" stroke="#2a80c4" stroke-width="1"/>
<path d="M1814.2 1670.3 L1485.77 1846.65 A372.4 374.1 0 0 1 1470.15 1813.46 Z" fill="#dc4c4c" stroke="#dc4c4c" stroke-width="1"/>
<path d="M1814.2 1670.3 L1470.15 1813.46 A372.4 374.1 0 0 1 1448.96 1597.32 Z" fill="#8fc04e" stroke="#8fc04e" stroke-width="1"/>
<path d="M1814.2 1670.3 L1448.96 1597.32 A372.4 374.1 0 0 1 1504.56 1462.46 Z" fill="#8c64a5" stroke="#8c64a5" stroke-width="1"/>
<path d="M1814.2 1670.3 L1504.56 1462.46 A372.4 374.1 0 0 1 1741.55 1303.39 Z" fill="#00b0ce" stroke="#00b0ce" stroke-width="1"/>
<path d="M1814.2 1670.3 L1741.55 1303.39 A372.4 374.1 0 0 1 1814.20 1296.20 Z" fill="#ff983c" stroke="#ff983c" stroke-width="1"/>
<path d="M1814.2 1670.3 L1814.20 1296.20M1814.2 1670.3 L1956.71 1324.68M1814.2 1670.3 L2142.63 1493.95M1814.2 1670.3 L2158.25 1813.46M1814.2 1670.3 L1850.70 2042.60M1814.2 1670.3 L1741.55 2037.21M1814.2 1670.3 L1706.10 2028.29M1814.2 1670.3 L1485.77 1846.65M1814.2 1670.3 L1470.15 1813.46M1814.2 1670.3 L1448.96 1597.32M1814.2 1670.3 L1504.56 1462.46M1814.2 1670.3 L1741.55 1303.39" fill="none" stroke="#e0dcd8" stroke-opacity=".34" stroke-width="2.4"/>
</g>
<g id="labelsC">
<path class="ld" d="M1738.6 1243 H1758.6 L1777.7 1297.5"/>
<path class="ld" d="M1695.7 2072.3 H1714.6 L1723.2 2035"/>
<path class="ld" d="M1799 2044.6 L1895.3 2072.1 H1921"/>
<text class="l" x="1670.7" y="1246.0" textLength="103.5" lengthAdjust="spacingAndGlyphs">Chr12</text>
<text class="l" x="1673.9" y="1299.0" textLength="53.0" lengthAdjust="spacingAndGlyphs">3%</text>
<text class="l" x="1864.6" y="1370.6" textLength="82.0" lengthAdjust="spacingAndGlyphs">Chr1</text>
<text class="l" x="1866.0" y="1423.7" textLength="53.5" lengthAdjust="spacingAndGlyphs">6%</text>
<text class="l" x="2003.9" y="1444.8" textLength="81.5" lengthAdjust="spacingAndGlyphs">Chr2</text>
<text class="l" x="2004.9" y="1498.0" textLength="75.0" lengthAdjust="spacingAndGlyphs">11%</text>
<text class="l" x="2117.7" y="1646.7" textLength="81.5" lengthAdjust="spacingAndGlyphs">Chr3</text>
<text class="l" x="2118.2" y="1699.8" textLength="76.0" lengthAdjust="spacingAndGlyphs">14%</text>
<text class="l" x="1972.1" y="1901.1" textLength="82.5" lengthAdjust="spacingAndGlyphs">Chr4</text>
<text class="l" x="1972.8" y="1955.0" textLength="75.5" lengthAdjust="spacingAndGlyphs">17%</text>
<text class="l" x="1966.1" y="2073.0" textLength="82.5" lengthAdjust="spacingAndGlyphs">Chr5</text>
<text class="l" x="1966.8" y="2126.6" textLength="52.5" lengthAdjust="spacingAndGlyphs">5%</text>
<text class="l" x="1642.8" y="2073.0" textLength="83.5" lengthAdjust="spacingAndGlyphs">Chr6</text>
<text class="l" x="1644.2" y="2126.6" textLength="53.5" lengthAdjust="spacingAndGlyphs">2%</text>
<text class="l" x="1636.0" y="1891.6" textLength="82.5" lengthAdjust="spacingAndGlyphs">Chr7</text>
<text class="l" x="1637.3" y="1946.0" textLength="75.5" lengthAdjust="spacingAndGlyphs">12%</text>
<text class="l" x="1418.5" y="1881.5" textLength="82.5" lengthAdjust="spacingAndGlyphs">Chr8</text>
<text class="l" x="1418.7" y="1935.6" textLength="53.0" lengthAdjust="spacingAndGlyphs">2%</text>
<text class="l" x="1502.0" y="1693.2" textLength="82.5" lengthAdjust="spacingAndGlyphs">Chr9</text>
<text class="l" x="1502.8" y="1747.4" textLength="53.0" lengthAdjust="spacingAndGlyphs">9%</text>
<text class="l" x="1404.6" y="1510.6" textLength="109.0" lengthAdjust="spacingAndGlyphs">Chr10</text>
<text class="l" x="1407.0" y="1563.3" textLength="53.0" lengthAdjust="spacingAndGlyphs">6%</text>
<text class="l" x="1656.7" y="1424.2" textLength="104.5" lengthAdjust="spacingAndGlyphs">Chr11</text>
<text class="l" x="1658.8" y="1477.6" textLength="75.5" lengthAdjust="spacingAndGlyphs">13%</text>
</g>
</g>
</svg></body></html>
